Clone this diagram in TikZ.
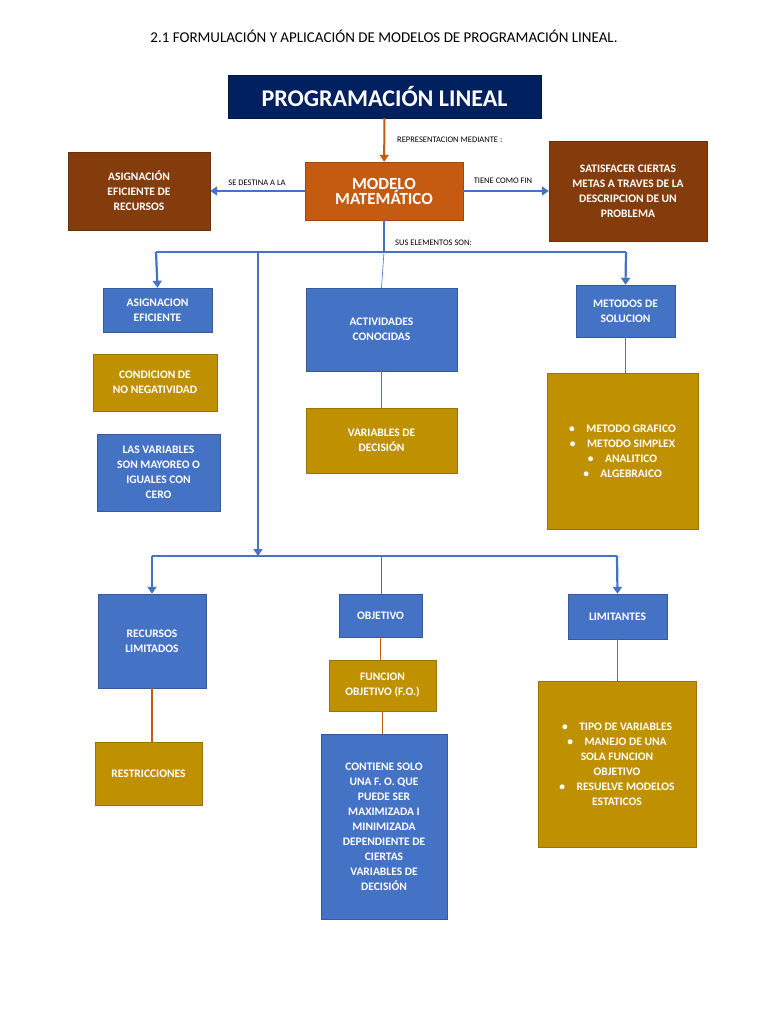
\documentclass[tikz,border=0pt]{standalone}
\usepackage{fontspec}
\setmainfont{Carlito}
\usetikzlibrary{arrows.meta}
\definecolor{navy}{HTML}{002060}
\definecolor{org}{HTML}{C55A11}
\definecolor{brn}{HTML}{843C0C}
\definecolor{blu}{HTML}{4472C4}
\definecolor{gld}{HTML}{BF9000}
\begin{document}
\begin{tikzpicture}[x=1pt, y=-1pt, font=\bfseries\fontsize{11.5}{15}\selectfont]
\tikzset{
  box/.style={draw=#1!80!black, fill=#1, text=white, align=center, inner sep=0pt},
  lbl/.style={font=\fontsize{8.5}{10}\selectfont, inner sep=1pt},
  barrow/.style={draw=blu, line width=2.2pt, -{Triangle[length=7pt,width=9pt]}},
  bline/.style={draw=blu, line width=2.2pt},
  thin/.style={draw=blu, line width=0.6pt},
  oline/.style={draw=org, line width=1.3pt},
}
\useasboundingbox (0,0) rectangle (768,1024);
\fill[white] (0,0) rectangle (768,1024);
\node[font=\fontsize{15}{18}\selectfont] (title) at (384,36) {2.1 FORMULACIÓN Y APLICACIÓN DE MODELOS DE PROGRAMACIÓN LINEAL.};

% helper: box by corners
\newcommand{\bx}[6]{\node[box=#2, minimum width={#5-#3}, minimum height={#6-#4}] (#1) at ({(#3+#5)/2},{(#4+#6)/2})}

\bx{pl}{navy}{228}{75}{541}{118} {\fontsize{24}{28}\selectfont PROGRAMACIÓN LINEAL};
\bx{mm}{org}{305}{162}{463}{220} {\fontsize{17}{21}\selectfont MODELO\\\fontsize{17}{21}\selectfont MATEMÁTICO};
\bx{aer}{brn}{68}{152}{210}{230} {ASIGNACIÓN\\EFICIENTE DE\\RECURSOS};
\bx{sat}{brn}{549}{141}{707}{241} {SATISFACER CIERTAS\\METAS A TRAVES DE LA\\DESCRIPCION DE UN\\PROBLEMA};

\bx{ae}{blu}{103}{288}{212}{332} {ASIGNACION\\EFICIENTE};
\bx{cnn}{gld}{93}{354}{217}{411} {CONDICION DE\\NO NEGATIVIDAD};
\bx{lv}{blu}{97}{434}{220}{511} {LAS VARIABLES\\SON MAYOREO O\\IGUALES CON\\CERO};
\bx{ac}{blu}{306}{288}{457}{371} {ACTIVIDADES\\CONOCIDAS};
\bx{vd}{gld}{306}{408}{457}{473} {VARIABLES DE\\DECISIÓN};
\bx{ms}{blu}{576}{285}{675}{337} {METODOS DE\\SOLUCION};
\bx{msl}{gld}{547}{373}{698}{529} {\textbullet\quad METODO GRAFICO\\\textbullet\quad METODO SIMPLEX\\\textbullet\quad ANALITICO\\\textbullet\quad ALGEBRAICO};

\bx{rl}{blu}{98}{594}{206}{688} {RECURSOS\\LIMITADOS};
\bx{res}{gld}{95}{742}{202}{805} {RESTRICCIONES};
\bx{obj}{blu}{339}{594}{422}{637} {OBJETIVO};
\bx{fo}{gld}{329}{660}{436}{711} {FUNCION\\OBJETIVO (F.O.)};
\bx{cs}{blu}{321}{734}{447}{919} {CONTIENE SOLO\\UNA F. O. QUE\\PUEDE SER\\MAXIMIZADA I\\MINIMIZADA\\DEPENDIENTE DE\\CIERTAS\\VARIABLES DE\\DECISIÓN};
\bx{lim}{blu}{568}{594}{667}{639} {LIMITANTES};
\bx{liml}{gld}{538}{681}{696}{847} {\textbullet\quad TIPO DE VARIABLES\\\textbullet\quad MANEJO DE UNA\\SOLA FUNCION\\OBJETIVO\\\textbullet\quad RESUELVE MODELOS\\ESTATICOS};

% connectors
\draw[draw=org, line width=2pt, -{Triangle[length=7pt,width=9pt]}] (pl) -- (mm);
\node[lbl, anchor=west] (rm) at (396,140) {REPRESENTACION MEDIANTE :};
\draw[barrow] (mm) -- (aer);
\node[lbl] (sd) at (257,183) {SE DESTINA A LA};
\draw[barrow] (mm) -- (sat);
\node[lbl] (tf) at (503,181) {TIENE COMO FIN};

\coordinate (j1) at (384,252);
\coordinate (l1) at (156,252);
\coordinate (r1) at (626,252);
\coordinate (m1) at (258,252);
\draw[bline] (mm.south) -- (j1);
\node[lbl, anchor=west] (se) at (394,243) {SUS ELEMENTOS SON:};
\draw[bline] (l1) -- (r1);
\draw[barrow] (l1) -- (ae.north);
\draw[barrow] (r1) -- (ms.north);
\draw[thin] (j1) -- (ac.north);

\coordinate (l2) at (152,556);
\coordinate (r2) at (617,556);
\coordinate (m2) at (258,556);
\coordinate (c2) at (381,556);
\draw[barrow] (m1) -- (m2);
\draw[bline] (l2) -- (r2);
\draw[barrow] (l2) -- (rl.north);
\draw[barrow] (r2) -- (lim.north);
\draw[thin] (c2) -- (c2 |- obj.north);

\draw[oline] (ac) -- (vd);
\draw[oline] (ms) -- (ms |- msl.north);
\draw[oline] (rl) -- (rl |- res.north);
\draw[oline] (obj) -- (obj |- fo.north);
\draw[oline] (fo) -- (fo |- cs.north);
\draw[oline] (lim) -- (lim |- liml.north);
\end{tikzpicture}
\end{document}
